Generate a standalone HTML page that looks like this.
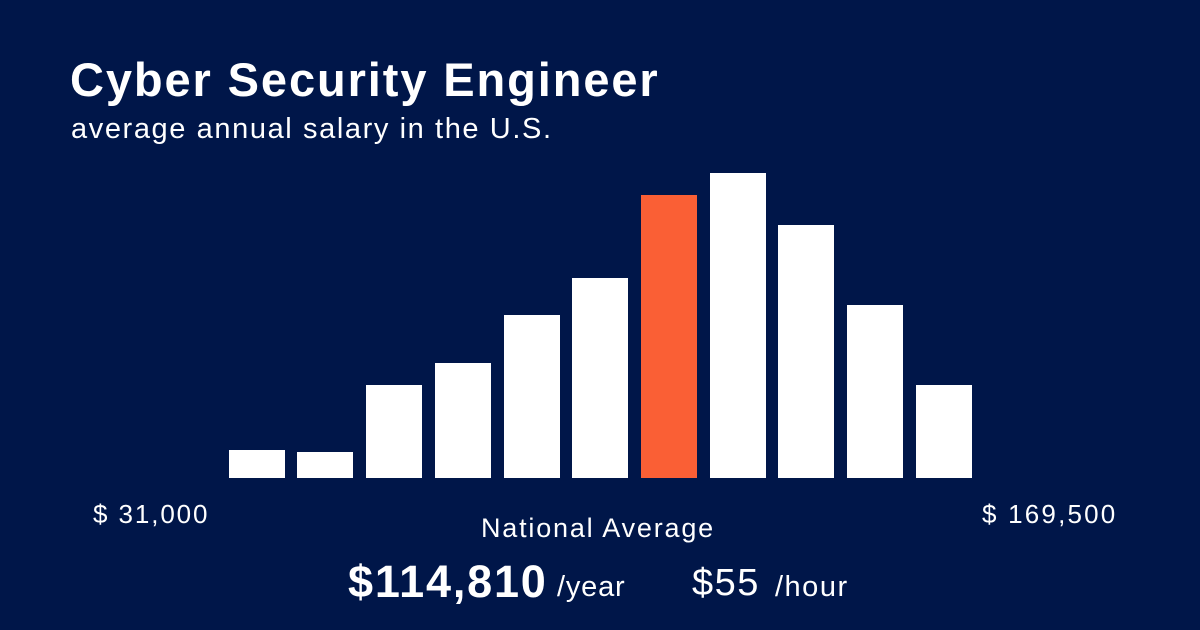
<!DOCTYPE html>
<html><head><style>
body{margin:0;width:1200px;height:630px;background:#001649;position:relative;overflow:hidden;font-family:"Liberation Sans",sans-serif;color:#fff}
.t{position:absolute;white-space:nowrap}
.b{position:absolute;bottom:152px;width:56px;background:#fff}
</style></head><body>
<div class="t" style="left:70px;top:52px;font-size:47px;font-weight:bold;letter-spacing:1.9px">Cyber Security Engineer</div>
<div class="t" style="left:71px;top:113px;font-size:29px;letter-spacing:1.6px">average annual salary in the U.S.</div>
<div class="b" style="left:229px;height:28px"></div>
<div class="b" style="left:297px;height:26px"></div>
<div class="b" style="left:366px;height:93px"></div>
<div class="b" style="left:435px;height:115px"></div>
<div class="b" style="left:504px;height:163px"></div>
<div class="b" style="left:572px;height:200px"></div>
<div class="b" style="left:641px;height:283px;background:#fa5f35"></div>
<div class="b" style="left:710px;height:305px"></div>
<div class="b" style="left:778px;height:253px"></div>
<div class="b" style="left:847px;height:173px"></div>
<div class="b" style="left:916px;height:93px"></div>
<div class="t" style="left:93px;top:499px;font-size:26px;letter-spacing:1.9px">$ 31,000</div>
<div class="t" style="left:982px;top:499px;font-size:26px;letter-spacing:2.2px">$ 169,500</div>
<div class="t" style="left:481px;top:513px;font-size:27px;letter-spacing:1.8px">National Average</div>
<div class="t" style="left:348px;top:556px;font-size:45px;font-weight:bold;letter-spacing:1.8px">$114,810</div>
<div class="t" style="left:557px;top:571px;font-size:29px;letter-spacing:0.8px">/year</div>
<div class="t" style="left:692px;top:562px;font-size:38px;letter-spacing:1.5px">$55</div>
<div class="t" style="left:775px;top:571px;font-size:29px;letter-spacing:1.5px">/hour</div>
</body></html>
